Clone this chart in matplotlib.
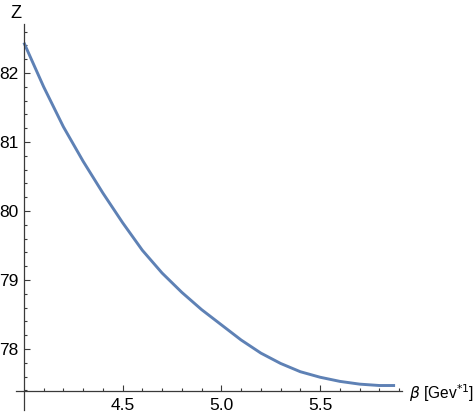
import numpy as np
import matplotlib
matplotlib.use("Agg")
import matplotlib.pyplot as plt
from matplotlib.ticker import FixedLocator

# values
beta = [4.0, 4.1, 4.2, 4.3, 4.4, 4.5, 4.6, 4.7, 4.8, 4.9,
        5.0, 5.1, 5.2, 5.3, 5.4, 5.5, 5.6, 5.7, 5.8, 5.88]
Z = [82.44, 81.80, 81.22, 80.72, 80.26, 79.83, 79.43, 79.10, 78.82, 78.57,
     78.35, 78.13, 77.94, 77.79, 77.67, 77.59, 77.53, 77.49, 77.47, 77.47]
xticks = [4.5, 5.0, 5.5]
yticks = [78, 79, 80, 81, 82]

X0, Y0 = 4.0, 77.39      # where the axes cross
AXCOL = "#3a3a3a"
LINECOL = "#5E81B5"

plt.rcParams.update({"font.family": ["Liberation Sans", "DejaVu Sans"],
                     "font.size": 12, "mathtext.fontset": "dejavusans"})

fig = plt.figure(figsize=(4.74, 4.17), dpi=100)
ax = fig.add_axes([16/474, 7/417, 386/474, 386/417])
ax.plot(beta, Z, color=LINECOL, lw=2.1, solid_capstyle="butt", solid_joinstyle="round")

ax.set_xlim(3.96, 5.915)
ax.set_ylim(77.115, 82.71)

for s in ("top", "right"):
    ax.spines[s].set_visible(False)
ax.spines["left"].set_position(("data", X0))
ax.spines["bottom"].set_position(("data", Y0))
for s in ("left", "bottom"):
    ax.spines[s].set_color(AXCOL)
    ax.spines[s].set_linewidth(0.9)

ax.xaxis.set_major_locator(FixedLocator(xticks))
ax.xaxis.set_major_formatter(plt.FuncFormatter(lambda v, p: f"{v:.1f}"))
ax.xaxis.set_minor_locator(FixedLocator(np.round(np.arange(4.1, 5.95, 0.1), 2)))
ax.yaxis.set_major_locator(FixedLocator(yticks))
ax.yaxis.set_minor_locator(FixedLocator(np.round(np.arange(77.4, 82.75, 0.2), 2)))

ax.tick_params(which="both", direction="in", color=AXCOL, width=0.8, labelsize=12.5)
ax.tick_params(which="major", length=4.5)
ax.tick_params(which="minor", length=2.5)
ax.tick_params(axis="x", pad=5)
ax.tick_params(axis="y", pad=4)

fig.text(16/474, 1 - 14/417, "Z", ha="center", va="center", fontsize=13)
fig.text(409/474, 1 - 393/417, r"$\beta$ [Gev$^{*1}$]", ha="left", va="center", fontsize=11.2)

fig.savefig("out.png", dpi=100)
